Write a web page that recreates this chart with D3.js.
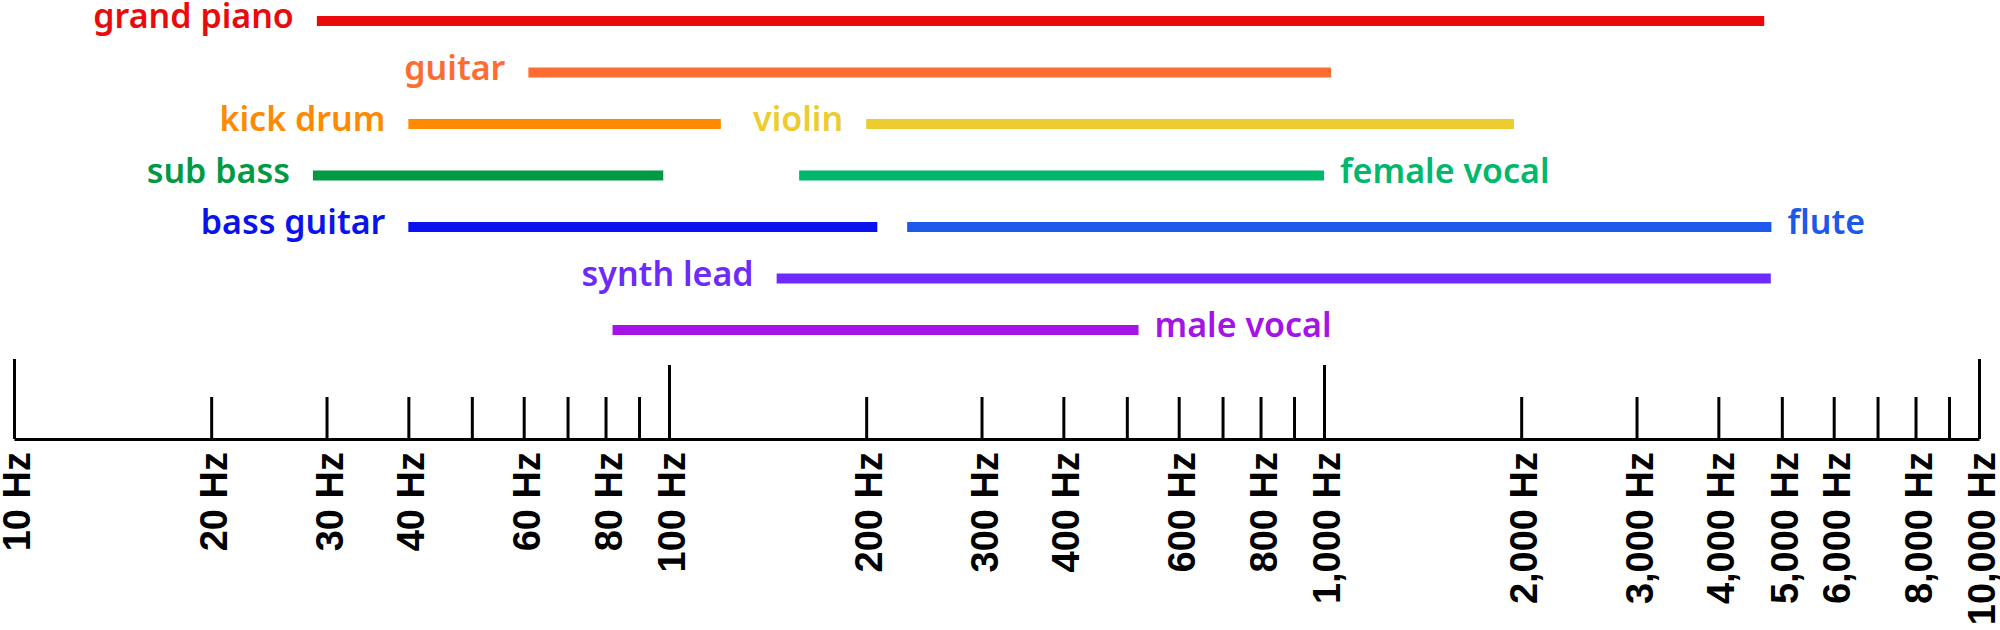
<!DOCTYPE html>
<html>
<head>
<meta charset="utf-8">
<script src="https://cdn.jsdelivr.net/npm/d3@7"></script>
<style>
  body { margin: 0; background: #fff; }
  .inst-label { font-family: "Noto Sans", "Open Sans", sans-serif; font-weight: 600; font-size: 34px; }
  .axis text { font-family: "Liberation Sans", Arial, sans-serif; font-weight: bold; font-size: 38px; fill: #000; }
</style>
</head>
<body>
<div id="chart"></div>
<script>

// instrument ranges (Hz)
var instruments = ["grand piano", "guitar", "kick drum", "violin", "sub bass", "female vocal", "bass guitar", "flute", "synth lead", "male vocal"];
var lowHz  = [29, 61, 40, 200, 28.6, 158, 40, 231, 146, 82];
var highHz = [4700, 1025, 120, 1950, 98, 1000, 208, 4820, 4810, 521];
var rowIndex = [0, 1, 2, 2, 3, 3, 4, 4, 5, 6];
var labelSide = ["left", "left", "left", "left", "left", "right", "left", "right", "left", "right"];
var colors = ["#ea0a0b", "#fd6c30", "#ff8a00", "#edcc2f", "#009944", "#00b86c", "#0a12ee", "#1c58ea", "#6c2bfb", "#a414e6"];

// axis ticks
var tickHz = [10, 20, 30, 40, 50, 60, 70, 80, 90,
              100, 200, 300, 400, 500, 600, 700, 800, 900,
              1000, 2000, 3000, 4000, 5000, 6000, 7000, 8000, 9000, 10000];
var labeledHz = [10, 20, 30, 40, 60, 80, 100, 200, 300, 400, 600, 800,
                 1000, 2000, 3000, 4000, 5000, 6000, 8000, 10000];

var width = 2000, height = 630;
var axisY = 439;

var data = instruments.map(function(d, i) {
  return { name: d, low: lowHz[i], high: highHz[i], row: rowIndex[i], side: labelSide[i], color: colors[i] };
});

var x = d3.scaleLog()
  .domain([10, 10000])
  .range([14, 1979]);

var y = d3.scalePoint()
  .domain(d3.range(7))
  .range([21, 330]);

var svg = d3.select("#chart").append("svg")
  .attr("width", width)
  .attr("height", height);

// bars
svg.append("g")
  .selectAll("line")
  .data(data)
  .enter()
  .append("line")
  .attr("x1", function(d) { return x(d.low); })
  .attr("x2", function(d) { return x(d.high); })
  .attr("y1", function(d) { return y(d.row); })
  .attr("y2", function(d) { return y(d.row); })
  .attr("stroke", function(d) { return d.color; })
  .attr("stroke-width", 10)
  .attr("stroke-linecap", "butt");

// labels next to bars
svg.append("g")
  .selectAll("text")
  .data(data)
  .enter()
  .append("text")
  .attr("class", "inst-label")
  .attr("x", function(d) { return d.side == "left" ? x(d.low) - 23 : x(d.high) + 16; })
  .attr("y", function(d) { return y(d.row); })
  .attr("dy", "0.22em")
  .attr("text-anchor", function(d) { return d.side == "left" ? "end" : "start"; })
  .attr("fill", function(d) { return d.color; })
  .text(function(d) { return d.name; });

// frequency axis, ticks pointing up
var fmt = d3.format(",");
var xAxis = d3.axisBottom(x)
  .tickValues(tickHz)
  .tickSizeOuter(0)
  .tickFormat(function(d) { return labeledHz.indexOf(d) >= 0 ? fmt(d) + " Hz" : ""; });

var axisG = svg.append("g")
  .attr("class", "axis")
  .attr("transform", "translate(0," + axisY + ")")
  .call(xAxis);

axisG.select(".domain")
  .attr("stroke", "#000")
  .attr("stroke-width", 3);

axisG.selectAll(".tick line")
  .attr("stroke", "#000")
  .attr("stroke-width", 3)
  .attr("y2", function(d) {
    if (d == 10 || d == 10000) return -80;
    if (d == 100 || d == 1000) return -74;
    return -42;
  });

axisG.selectAll(".tick text")
  .attr("x", 0)
  .attr("y", 0)
  .attr("dy", "0.41em")
  .attr("transform", "translate(0,13) rotate(-90)")
  .attr("text-anchor", "end");

</script>
</body>
</html>
